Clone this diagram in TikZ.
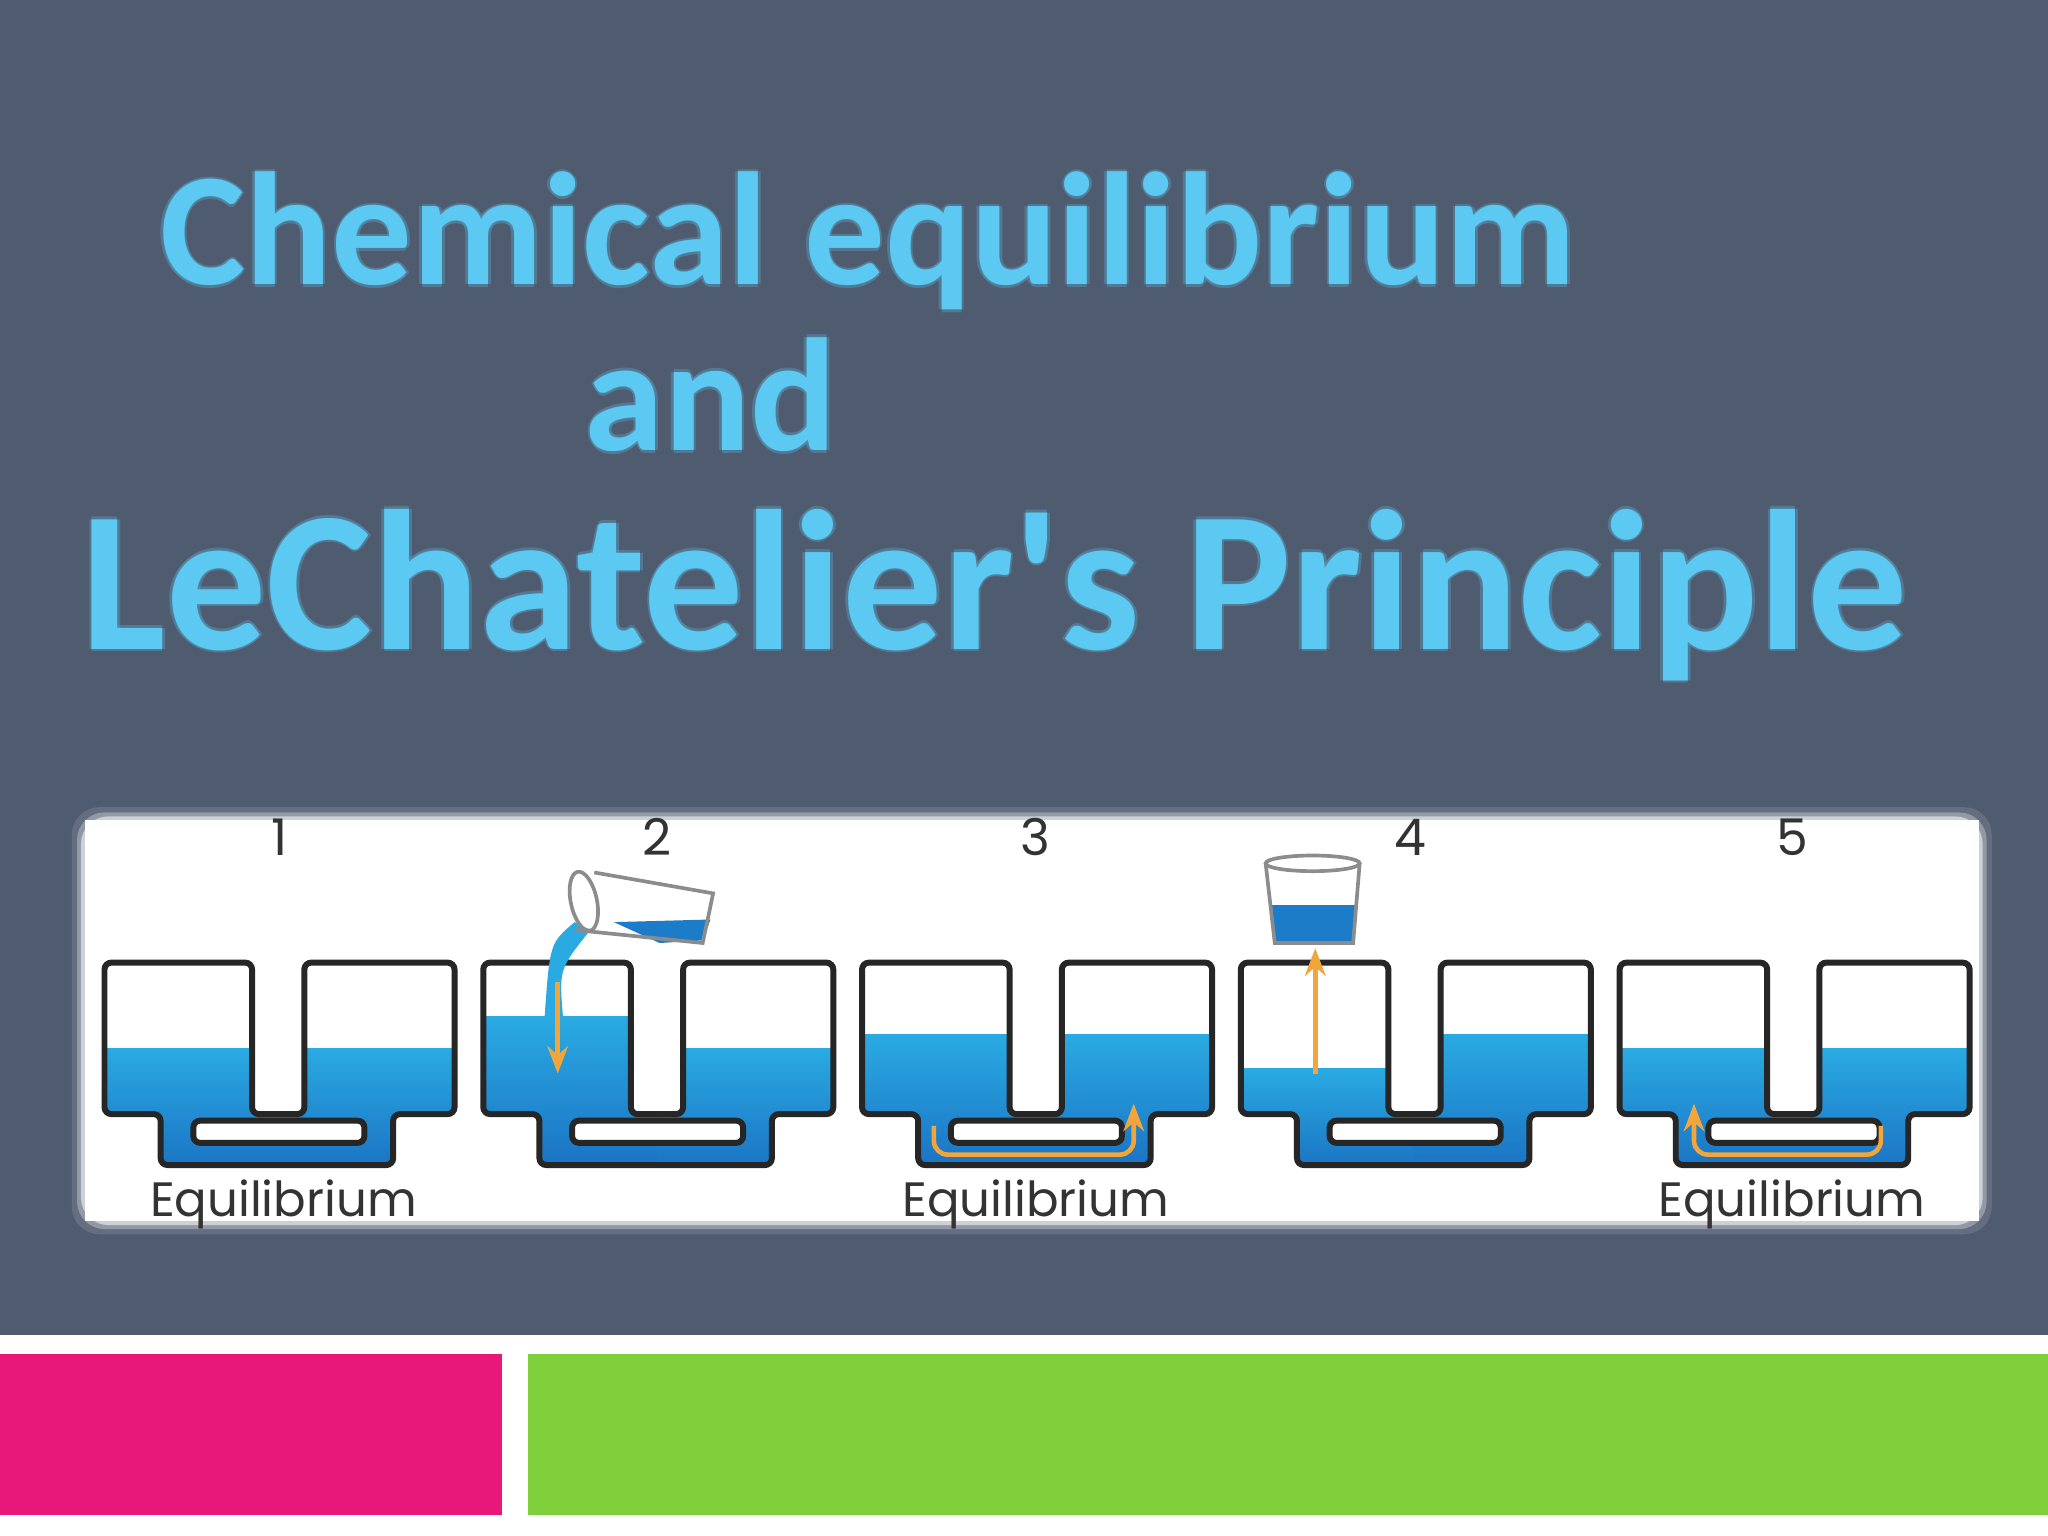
\documentclass[tikz,border=0pt]{standalone}
\usepackage{fontspec}
\setmainfont{Carlito}
\newfontfamily\labelfont{Poppins}
\usetikzlibrary{arrows.meta}
\definecolor{slate}{HTML}{4F5B6F}
\definecolor{titleblue}{HTML}{5CC9F2}
\definecolor{waterlight}{HTML}{2AAAE2}
\definecolor{waterdark}{HTML}{1A70C2}
\definecolor{flowarrow}{HTML}{F2A53A}
\definecolor{barpink}{HTML}{E8187A}
\definecolor{bargreen}{HTML}{80D03C}
\tikzset{
  vesselline/.style={line width=1.3pt, draw=black!85, rounded corners=1.5pt},
  flow/.style={flowarrow, line width=1pt, -{Stealth[length=6pt]}},
  glass/.style={draw=black!45, line width=0.8pt},
  title/.style={text=titleblue, font=\bfseries, anchor=base west, inner sep=0pt},
  step number/.style={font=\labelfont\fontsize{11}{11}\selectfont, text=black!80},
  eqlabel/.style={font=\labelfont\fontsize{10.5}{10.5}\selectfont, text=black!80}
}
\newcommand{\vessel}[3]{% #1 shift, #2 left level, #3 right level
  \begin{scope}[shift={(#1,0)}]
    \begin{scope}
      \clip[rounded corners=1.5pt] (123,853) -- (80,853) -- (80,737) -- (193,737) -- (193,853) -- (233,853) -- (233,737) -- (348,737) -- (348,853) -- (301,853) -- (301,892) -- (123,892) -- cycle;
      \fill[white] (70,730) rectangle (360,900);
      \shade[top color=waterlight, bottom color=waterdark] (70,#2) rectangle (213,900);
      \shade[top color=waterlight, bottom color=waterdark] (213,#3) rectangle (360,900);
    \end{scope}
    \draw[vesselline, fill=white] (148,858) rectangle (279,875);
    \draw[vesselline] (123,853) -- (80,853) -- (80,737) -- (193,737) -- (193,853) -- (233,853) -- (233,737) -- (348,737) -- (348,853) -- (301,853) -- (301,892) -- (123,892) -- cycle;
  \end{scope}}

\begin{document}
\begin{tikzpicture}[x=0.01cm, y=-0.01cm]
  \useasboundingbox (0,0) rectangle (1568,1176);
  \fill[white] (0,0) rectangle (1568,1176);
  \fill[slate] (0,0) rectangle (1568,1022);
  \fill[barpink] (0,1037) rectangle (384,1160);
  \fill[bargreen] (404,1037) rectangle (1568,1160);

  % title
  \foreach \dx/\dy in {-2/0, 2/0, 0/-2, 0/2}{
    \node[title, text=titleblue!55!slate, opacity=0.5] at ({122+\dx},{218+\dy}) {\fontsize{35}{35}\selectfont Chemical equilibrium};
    \node[title, text=titleblue!55!slate, opacity=0.5] at ({447+\dx},{345+\dy}) {\fontsize{35}{35}\selectfont and};
    \node[title, text=titleblue!55!slate, opacity=0.5] at ({62+\dx},{497+\dy}) {\fontsize{43.5}{43.5}\selectfont LeChatelier\textquotesingle s Principle};
  }
  \node[title] (line1) at (122,218) {\fontsize{35}{35}\selectfont Chemical equilibrium};
  \node[title] (line2) at (447,345) {\fontsize{35}{35}\selectfont and};
  \node[title] (line3) at (62,497) {\fontsize{43.5}{43.5}\selectfont LeChatelier\textquotesingle s Principle};

  % panel
  \foreach \w/\o in {10/0.12, 6/0.3, 3/0.55}
    \fill[white, opacity=\o, rounded corners=6] ({65-\w},{628-\w}) rectangle ({1515+\w},{935+\w});
  \fill[white] (65,628) rectangle (1515,935);

  \foreach \n/\x in {1/214, 2/503, 3/793, 4/1080, 5/1372}
    \node[step number] (num\n) at (\x,641) {\n};

  \vessel{0}{803}{803}
  \vessel{290}{778}{803}
  \vessel{580}{792}{792}
  \vessel{870}{818}{792}
  \vessel{1160}{803}{803}

  % pouring beaker
  \fill[waterdark!80!waterlight] (470,706) -- (544,704) -- (538,720) -- (505,722) -- cycle;
  \fill[waterlight] (440,706) .. controls (421,722) .. (417,778) -- (431,778) .. controls (428,742) .. (452,712) -- cycle;
  \draw[glass] (455,668) -- (546,684) -- (538,722) -- (440,712);
  \draw[glass, rotate around={-78:(447,690)}] (447,690) ellipse (23 and 10);
  \coordinate (pourtop) at (427,752);
  \coordinate (pourend) at (427,822);
  \draw[flow] (pourtop) -- (pourend);

  % lifting beaker
  \fill[waterdark!80!waterlight] (972,693) -- (1038,693) -- (1036,722) -- (976,722) -- cycle;
  \draw[glass] (969,661) -- (976,722) -- (1036,722) -- (1041,661);
  \draw[glass] (1005,661) ellipse (36 and 6);
  \coordinate (liftbot) at (1007,822);
  \coordinate (lifttop) at (1007,726);
  \draw[flow] (liftbot) -- (lifttop);

  % flows through the tubes
  \coordinate (flowA) at (715,862);
  \coordinate (flowB) at (868,845);
  \draw[flow, rounded corners=3] (flowA) -- (715,884) -- (868,884) -- (flowB);
  \coordinate (flowC) at (1440,862);
  \coordinate (flowD) at (1297,845);
  \draw[flow, rounded corners=3] (flowC) -- (1440,884) -- (1297,884) -- (flowD);

  \node[eqlabel] (eq1) at (217,922) {Equilibrium};
  \node[eqlabel] (eq3) at (793,922) {Equilibrium};
  \node[eqlabel] (eq5) at (1372,922) {Equilibrium};
\end{tikzpicture}
\end{document}
